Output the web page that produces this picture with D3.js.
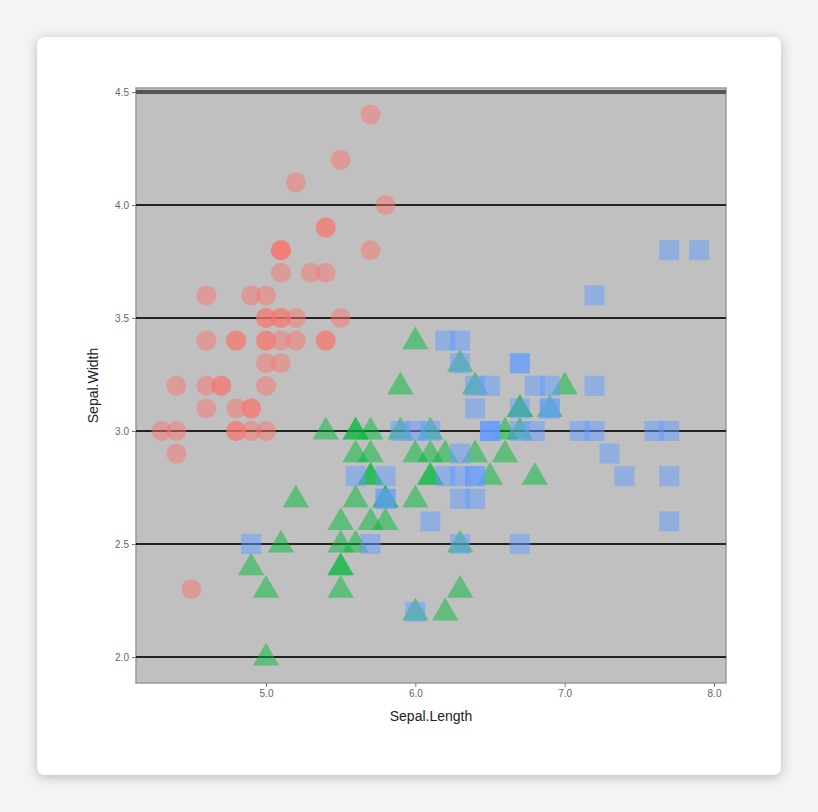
<!DOCTYPE html>
<html><head><meta charset="utf-8">
<script src="https://cdn.jsdelivr.net/npm/d3@7"></script>
<style>body{margin:0;background:#f4f4f4;font-family:"Liberation Sans",Arial,sans-serif}</style>
</head><body>
<svg id="c" width="818" height="812"></svg>
<script>
var setosaX = [5.1,4.9,4.7,4.6,5.0,5.4,4.6,5.0,4.4,4.9,5.4,4.8,4.8,4.3,5.8,5.7,5.4,5.1,5.7,5.1,5.4,5.1,4.6,5.1,4.8,5.0,5.0,5.2,5.2,4.7,4.8,5.4,5.2,5.5,4.9,5.0,5.5,4.9,4.4,5.1,5.0,4.5,4.4,5.0,5.1,4.8,5.1,4.6,5.3,5.0];
var setosaY = [3.5,3.0,3.2,3.1,3.6,3.9,3.4,3.4,2.9,3.1,3.7,3.4,3.0,3.0,4.0,4.4,3.9,3.5,3.8,3.8,3.4,3.7,3.6,3.3,3.4,3.0,3.4,3.5,3.4,3.2,3.1,3.4,4.1,4.2,3.1,3.2,3.5,3.6,3.0,3.4,3.5,2.3,3.2,3.5,3.8,3.0,3.8,3.2,3.7,3.3];
var versicolorX = [7.0,6.4,6.9,5.5,6.5,5.7,6.3,4.9,6.6,5.2,5.0,5.9,6.0,6.1,5.6,6.7,5.6,5.8,6.2,5.6,5.9,6.1,6.3,6.1,6.4,6.6,6.8,6.7,6.0,5.7,5.5,5.5,5.8,6.0,5.4,6.0,6.7,6.3,5.6,5.5,5.5,6.1,5.8,5.0,5.6,5.7,5.7,6.2,5.1,5.7];
var versicolorY = [3.2,3.2,3.1,2.3,2.8,2.8,3.3,2.4,2.9,2.7,2.0,3.0,2.2,2.9,2.9,3.1,3.0,2.7,2.2,2.5,3.2,2.8,2.5,2.8,2.9,3.0,2.8,3.0,2.9,2.6,2.4,2.4,2.7,2.7,3.0,3.4,3.1,2.3,3.0,2.5,2.6,3.0,2.6,2.3,2.7,3.0,2.9,2.9,2.5,2.8];
var virginicaX = [6.3,5.8,7.1,6.3,6.5,7.6,4.9,7.3,6.7,7.2,6.5,6.4,6.8,5.7,5.8,6.4,6.5,7.7,7.7,6.0,6.9,5.6,7.7,6.3,6.7,7.2,6.2,6.1,6.4,7.2,7.4,7.9,6.4,6.3,6.1,7.7,6.3,6.4,6.0,6.9,6.7,6.9,5.8,6.8,6.7,6.7,6.3,6.5,6.2,5.9];
var virginicaY = [3.3,2.7,3.0,2.9,3.0,3.0,2.5,2.9,2.5,3.6,3.2,2.7,3.0,2.5,2.8,3.2,3.0,3.8,2.6,2.2,3.2,2.8,2.8,2.7,3.3,3.2,2.8,3.0,2.8,3.0,2.8,3.8,2.8,2.8,2.6,3.0,3.4,3.1,3.0,3.1,3.1,3.1,2.7,3.2,3.3,3.0,2.5,3.0,3.4,3.0];
var xTicks = [5, 6, 7, 8];
var yTicks = [2.0, 2.5, 3.0, 3.5, 4.0, 4.5];

var svg = d3.select("#c");
var defs = svg.append("defs");
var f = defs.append("filter").attr("id", "sh").attr("x", "-10%").attr("y", "-10%").attr("width", "120%").attr("height", "120%");
f.append("feDropShadow").attr("dx", 0).attr("dy", 2).attr("stdDeviation", 6).attr("flood-color", "#000").attr("flood-opacity", 0.25);
svg.append("rect").attr("x", 37).attr("y", 37).attr("width", 744).attr("height", 738)
    .attr("rx", 8).attr("fill", "#fff").attr("filter", "url(#sh)");

var L = 136, R = 726, T = 88, B = 683;
var x = d3.scaleLinear().domain([5, 8]).range([266, 714]);
var y = d3.scaleLinear().domain([2, 4.5]).range([657, 92]);

svg.append("rect").attr("x", L).attr("y", T).attr("width", R - L).attr("height", B - T)
    .attr("fill", "#c0c0c0").attr("stroke", "#999").attr("stroke-width", 1.5);

svg.append("g").selectAll("line").data(yTicks).enter().append("line")
    .attr("x1", L).attr("x2", R).attr("y1", function(d) { return y(d); }).attr("y2", function(d) { return y(d); })
    .attr("stroke", function(d) { return d === 4.5 ? "#555" : "#222"; })
    .attr("stroke-width", function(d) { return d === 4.5 ? 4 : 2; });

var yAxis = svg.append("g").attr("transform", "translate(" + L + ",0)")
    .call(d3.axisLeft(y).tickValues(yTicks).tickFormat(d3.format(".1f")).tickSize(4).tickPadding(3));
var xAxis = svg.append("g").attr("transform", "translate(0," + B + ")")
    .call(d3.axisBottom(x).tickValues(xTicks).tickSize(4).tickPadding(3));
[yAxis, xAxis].forEach(function(a) {
    a.select(".domain").remove();
    a.selectAll("line").attr("stroke", "#777");
    a.selectAll("text").attr("fill", "#666").attr("font-size", 10).attr("font-family", "Liberation Sans, Arial, sans-serif");
});

svg.append("text").attr("x", (L + R) / 2).attr("y", 721).attr("text-anchor", "middle")
    .attr("font-size", 14).attr("fill", "#222").text("Sepal.Length");
svg.append("text").attr("transform", "translate(98," + ((T + B) / 2) + ") rotate(-90)")
    .attr("text-anchor", "middle").attr("font-size", 14).attr("fill", "#222").text("Sepal.Width");

var pts = svg.append("g").attr("fill-opacity", 0.5);
function zip(xs, ys) { return xs.map(function(v, i) { return [v, ys[i]]; }); }
pts.selectAll("circle").data(zip(setosaX, setosaY)).enter().append("circle")
    .attr("cx", function(d) { return x(d[0]); }).attr("cy", function(d) { return y(d[1]); })
    .attr("r", 10).attr("fill", "#F8766D");
pts.selectAll("path.tri").data(zip(versicolorX, versicolorY)).enter().append("path")
    .attr("class", "tri")
    .attr("d", d3.symbol().type(d3.symbolTriangle).size(300))
    .attr("transform", function(d) { return "translate(" + x(d[0]) + "," + (y(d[1]) + 1) + ")"; })
    .attr("fill", "#00BA38");
pts.selectAll("rect.sq").data(zip(virginicaX, virginicaY)).enter().append("rect")
    .attr("class", "sq")
    .attr("x", function(d) { return x(d[0]) - 10; }).attr("y", function(d) { return y(d[1]) - 10; })
    .attr("width", 20).attr("height", 20).attr("fill", "#619CFF");
</script>
</body></html>
